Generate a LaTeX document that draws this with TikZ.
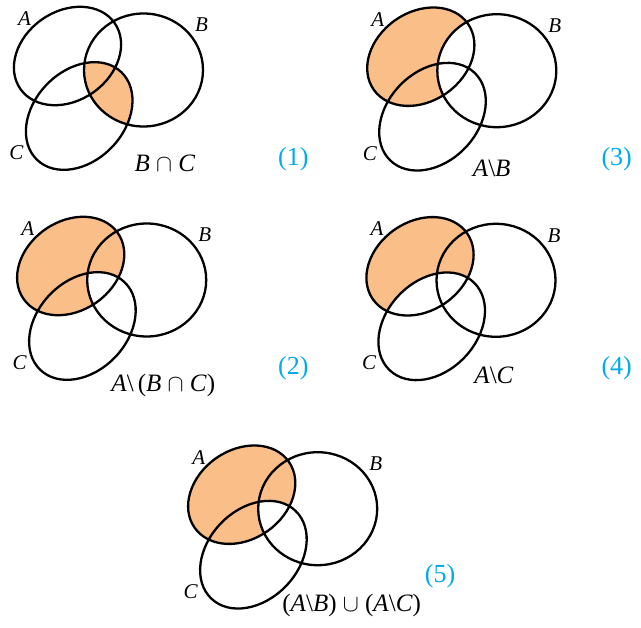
\documentclass[tikz,border=0pt]{standalone}
\usepackage{fontspec}
\setmainfont{Liberation Serif}
\usepackage{tikz}
\usetikzlibrary{calc,positioning}
\definecolor{vennfill}{RGB}{250,190,136}
\definecolor{vennnum}{RGB}{0,170,235}
\tikzset{
	venn line/.style={line width=1.15pt},
	set label/.style={inner sep=0pt,font=\fontsize{10.5}{12}\selectfont\itshape},
	venn caption/.style={inner sep=0pt,font=\fontsize{12.5}{14}\selectfont},
	panel num/.style={inner sep=0pt,text=vennnum,font=\fontsize{13}{15}\selectfont},
}
% the three sets, relative to the centre of A
\newcommand{\setA}{(0,0) ellipse [x radius=57.5,y radius=44.6,rotate=35]}
\newcommand{\setB}{(76,-14) ellipse [x radius=59.5,y radius=56.5]}
\newcommand{\setC}{(11.7,-60) ellipse [x radius=60.8,y radius=45.2,rotate=46]}
\newcommand{\sminus}{\textbackslash}
% outlines and set names of one panel
\newcommand{\vennsets}[1]{
	\draw[venn line] \setA \setB \setC;
	\node[set label] (A#1) at (-43,37.5) {A};
	\node[set label] (B#1) at (134,31) {B};
	\node[set label] (C#1) at (-51,-96.5) {C};
}
\begin{document}
\begin{tikzpicture}[x=0.5pt,y=0.5pt]
	\useasboundingbox (0,0) rectangle (641,627);
	% (1) B cap C
	\begin{scope}[shift={(67.5,571)}]
		\begin{scope}
			\clip \setB;
			\fill[vennfill] \setC;
		\end{scope}
		\vennsets{1}
		\node[venn caption] (cap1) at (97.5,-107.3) {\textit{B} $\cap$ \textit{C}};
		\node[panel num] (num1) at (225.8,-103.3) {(1)};
	\end{scope}
	% (3) A minus B
	\begin{scope}[shift={(420.8,570.3)}]
		\begin{scope}
			\clip \setA;
			\fill[vennfill] \setA;
			\fill[white] \setB;
		\end{scope}
		\vennsets{3}
		\node[venn caption] (cap3) at (70.9,-111.6) {\textit{A}\sminus\textit{B}};
		\node[panel num] (num3) at (195.9,-102.6) {(3)};
	\end{scope}
	% (2) A minus (B cap C)
	\begin{scope}[shift={(70.7,361)}]
		\begin{scope}
			\clip \setA;
			\fill[vennfill] \setA;
			\clip \setB;
			\fill[white] \setC;
		\end{scope}
		\vennsets{2}
		\node[venn caption] (cap2) at (92.6,-119) {\textit{A}\sminus\,(\textit{B} $\cap$ \textit{C})};
		\node[panel num] (num2) at (222.6,-102.3) {(2)};
	\end{scope}
	% (4) A minus C
	\begin{scope}[shift={(420,360.7)}]
		\begin{scope}
			\clip \setA;
			\fill[vennfill] \setA;
			\fill[white] \setC;
		\end{scope}
		\vennsets{4}
		\node[venn caption] (cap4) at (74,-108.7) {\textit{A}\sminus\textit{C}};
		\node[panel num] (num4) at (196.7,-102) {(4)};
	\end{scope}
	% (5) (A minus B) cup (A minus C)
	\begin{scope}[shift={(241.7,132.3)}]
		\begin{scope}
			\clip \setA;
			\fill[vennfill] \setA;
			\clip \setB;
			\fill[white] \setC;
		\end{scope}
		\vennsets{5}
		\node[venn caption] (cap5) at (110,-110.3) {(\textit{A}\sminus\textit{B}) $\cup$ (\textit{A}\sminus\textit{C})};
		\node[panel num] (num5) at (198.3,-82) {(5)};
	\end{scope}
\end{tikzpicture}
\end{document}
